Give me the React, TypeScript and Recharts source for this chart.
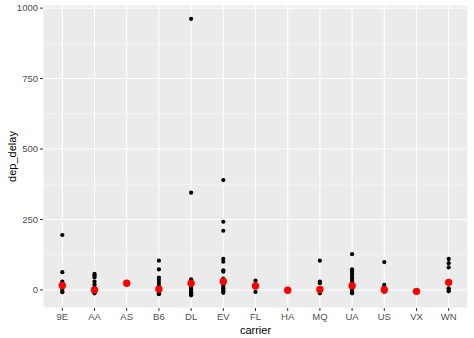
import React from 'react';
import { ScatterChart, Scatter, XAxis, YAxis, CartesianGrid, ReferenceLine } from 'recharts';

const carriers = ['9E', 'AA', 'AS', 'B6', 'DL', 'EV', 'FL', 'HA', 'MQ', 'UA', 'US', 'VX', 'WN'];

const delays9E = [195, 63, 30, 22, 12, 4, -3, -8];
const delaysAA = [57, 52, 45, 30, 20, 10, 5, -3, -8, -12];
const delaysAS = [24];
const delaysB6 = [104, 73, 44, 35, 25, 15, 5, -5, -12, -15];
const delaysDL = [962, 345, 38, 30, 22, 15, 8, 2, -3, -8, -12, -16, -19];
const delaysEV = [390, 242, 210, 110, 100, 70, 65, 40, 30, 20, 12, 5, 0, -5, -10];
const delaysFL = [33, 20, 10, -7];
const delaysHA = [-1];
const delaysMQ = [104, 30, 24, 5, -5, -12];
const delaysUA = [127, 73, 65, 56, 47, 40, 32, 25, 18, 10, 3, -3, -8, -12];
const delaysUS = [99, 18, 10, 2, -6];
const delaysVX = [-5];
const delaysWN = [110, 95, 80, 6, 0, -5];

const meanDelays = [16, 0, 24, 3, 24, 30, 14, -1, 2, 15, 1, -5, 27];

const yTicks = [0, 250, 500, 750, 1000];
const yMinorBreaks = [125, 375, 625, 875];
const yDomain = [-64, 1011];
const xTicks = carriers.map((_, i) => i + 1);

const delaysByCarrier = [
  delays9E, delaysAA, delaysAS, delaysB6, delaysDL, delaysEV, delaysFL,
  delaysHA, delaysMQ, delaysUA, delaysUS, delaysVX, delaysWN,
];

const pointData = delaysByCarrier.flatMap((vals, i) => vals.map((v) => ({ x: i + 1, y: v })));
const meanData = meanDelays.map((v, i) => ({ x: i + 1, y: v }));

const FONT = '"Liberation Sans", Arial, Helvetica, sans-serif';

const BlackDot = (p: any) => <circle cx={p.cx} cy={p.cy} r={2.1} fill="#000000" />;
const RedDot = (p: any) => <circle cx={p.cx} cy={p.cy} r={3.7} fill="#FF0000" />;

const YTitle = (props: any) => {
  const vb = props.viewBox || {};
  const cx = (vb.x || 0) + 12;
  const cy = (vb.y || 0) + (vb.height || 0) / 2;
  return (
    <text
      x={cx}
      y={cy}
      transform={`rotate(-90, ${cx}, ${cy})`}
      textAnchor="middle"
      dominantBaseline="central"
      fontSize={11}
      fontFamily={FONT}
      fill="#000000"
    >
      dep_delay
    </text>
  );
};

const XTitle = (props: any) => {
  const vb = props.viewBox || {};
  const cx = (vb.x || 0) + (vb.width || 0) / 2;
  const cy = (vb.y || 0) + 22;
  return (
    <text
      x={cx}
      y={cy}
      textAnchor="middle"
      dominantBaseline="central"
      fontSize={11}
      fontFamily={FONT}
      fill="#000000"
    >
      carrier
    </text>
  );
};

export default function App() {
  return (
    <div style={{ position: 'absolute', left: 0, top: 0, width: 474, height: 338, background: '#FFFFFF' }}>
      <ScatterChart width={474} height={338} margin={{ top: 5, right: 6, bottom: 0, left: 0 }}>
        <CartesianGrid fill="#EBEBEB" stroke="#FFFFFF" strokeWidth={1.1} />
        {yMinorBreaks.map((v) => (
          <ReferenceLine key={v} y={v} stroke="#FFFFFF" strokeWidth={0.55} />
        ))}
        <XAxis
          type="number"
          dataKey="x"
          domain={[0.4, 13.6]}
          ticks={xTicks}
          allowDataOverflow
          tickFormatter={(v: number) => carriers[v - 1] ?? ''}
          height={30}
          axisLine={false}
          tickSize={3}
          tickMargin={2}
          tickLine={{ stroke: '#333333' }}
          tick={{ fontSize: 9.5, fill: '#4D4D4D', fontFamily: FONT }}
          interval={0}
          label={<XTitle />}
        />
        <YAxis
          type="number"
          dataKey="y"
          domain={yDomain}
          ticks={yTicks}
          allowDataOverflow
          width={43}
          axisLine={false}
          tickSize={3}
          tickMargin={2}
          tickLine={{ stroke: '#333333' }}
          tick={{ fontSize: 9.5, fill: '#4D4D4D', fontFamily: FONT }}
          interval={0}
          label={<YTitle />}
        />
        <Scatter data={pointData} shape={BlackDot} isAnimationActive={false} />
        <Scatter data={meanData} shape={RedDot} isAnimationActive={false} />
      </ScatterChart>
    </div>
  );
}
